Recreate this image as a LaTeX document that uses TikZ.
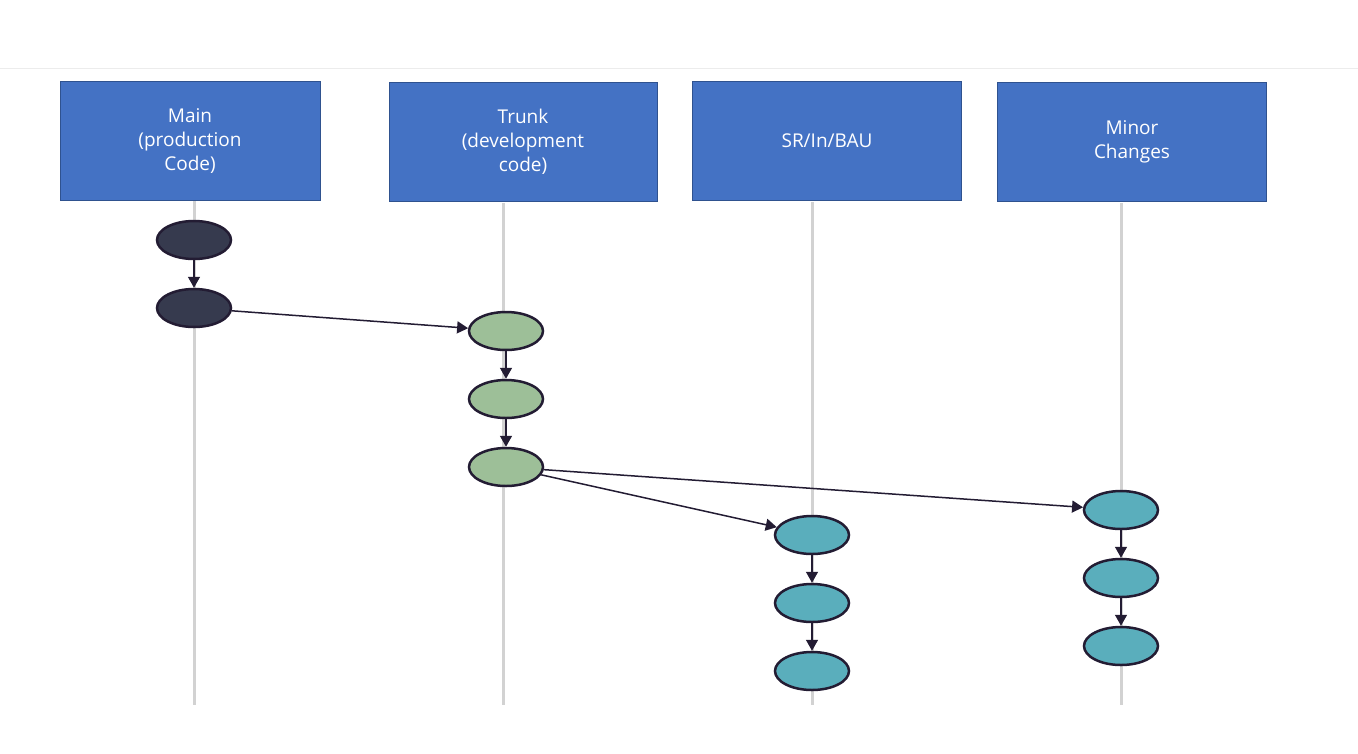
\documentclass[tikz,border=0pt]{standalone}
\usepackage{fontspec}
\setmainfont{Open Sans}
\usetikzlibrary{arrows.meta}
\definecolor{boxblue}{HTML}{4472C4}
\definecolor{boxedge}{HTML}{2F528F}
\definecolor{ink}{HTML}{231C33}
\definecolor{darkc}{HTML}{363A4E}
\definecolor{greenc}{HTML}{9DBF98}
\definecolor{tealc}{HTML}{5AAEBC}
\tikzset{
  head/.style={draw=boxedge,line width=1pt,fill=boxblue,text=white,font=\fontsize{19}{24}\selectfont,align=center,minimum width=260pt,minimum height=119pt,inner sep=0pt},
  life/.style={draw=gray!35,line width=3pt},
  commit/.style={ellipse,draw=ink,line width=2.5pt,minimum width=74pt,minimum height=38pt,inner sep=0pt},
  flow/.style={draw=ink,line width=1.5pt,-{Triangle[length=11pt,width=12pt]}}
}
\usetikzlibrary{shapes.geometric}
\begin{document}
\begin{tikzpicture}[x=1pt,y=-1pt]
\useasboundingbox (0,0) rectangle (1358,753);
\fill[white] (0,0) rectangle (1358,753);
\draw[gray!15,line width=1pt] (0,68) -- (1358,68);
\node[head] (hm) at (190,141) {Main\\(production\\Code)};
\node[head,minimum width=268pt] (ht) at (523,142) {Trunk\\(development\\code)};
\node[head,minimum width=269pt] (hs) at (827,141) {SR/In/BAU};
\node[head,minimum width=269pt] (hn) at (1132,142) {Minor\\Changes};
\coordinate (lm) at (194,705); \coordinate (lt) at (503,705);
\coordinate (ls) at (812,705); \coordinate (ln) at (1121,705);
\draw[life] (194,201) -- (lm);
\draw[life] (503,203) -- (lt);
\draw[life] (812,202) -- (ls);
\draw[life] (1121,203) -- (ln);
\node[commit,fill=darkc] (m1) at (194,240) {};
\node[commit,fill=darkc] (m2) at (194,308) {};
\node[commit,fill=greenc] (t1) at (506,331) {};
\node[commit,fill=greenc] (t2) at (506,399) {};
\node[commit,fill=greenc] (t3) at (506,467) {};
\node[commit,fill=tealc] (s1) at (812,535) {};
\node[commit,fill=tealc] (s2) at (812,603) {};
\node[commit,fill=tealc] (s3) at (812,671) {};
\node[commit,fill=tealc] (n1) at (1121,510) {};
\node[commit,fill=tealc] (n2) at (1121,578) {};
\node[commit,fill=tealc] (n3) at (1121,646) {};
\draw[flow] (m1) -- (m2);
\draw[flow] (m2) -- (t1);
\draw[flow] (t1) -- (t2);
\draw[flow] (t2) -- (t3);
\draw[flow] (t3) -- (s1);
\draw[flow] (t3) -- (n1);
\draw[flow] (s1) -- (s2);
\draw[flow] (s2) -- (s3);
\draw[flow] (n1) -- (n2);
\draw[flow] (n2) -- (n3);
\end{tikzpicture}
\end{document}
